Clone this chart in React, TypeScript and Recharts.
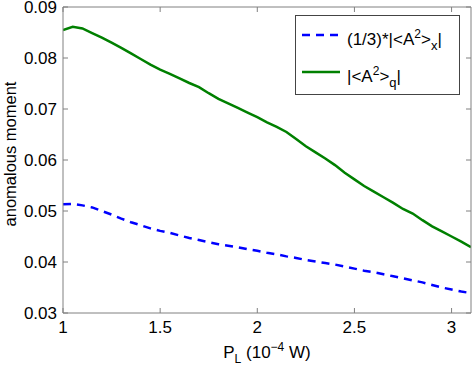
import React from 'react';
import { LineChart, Line, XAxis, YAxis, Legend, Label } from 'recharts';

const powerL = [1.0, 1.05, 1.1, 1.15, 1.2, 1.25, 1.3, 1.35, 1.4, 1.45, 1.5, 1.55, 1.6, 1.65, 1.7, 1.75, 1.8, 1.85, 1.9, 1.95, 2.0, 2.05, 2.1, 2.15, 2.2, 2.25, 2.3, 2.35, 2.4, 2.45, 2.5, 2.55, 2.6, 2.65, 2.7, 2.75, 2.8, 2.85, 2.9, 2.95, 3.0, 3.05, 3.1];
const momentX = [0.0513, 0.0514, 0.0511, 0.0507, 0.05, 0.0493, 0.0485, 0.0478, 0.0472, 0.0466, 0.0461, 0.0457, 0.0452, 0.0447, 0.0443, 0.0439, 0.0435, 0.0432, 0.0429, 0.0425, 0.0422, 0.0418, 0.0415, 0.0411, 0.0408, 0.0404, 0.0401, 0.0398, 0.0395, 0.0391, 0.0387, 0.0383, 0.038, 0.0376, 0.0372, 0.0368, 0.0364, 0.036, 0.0355, 0.035, 0.0346, 0.0342, 0.0339];
const momentQ = [0.0855, 0.0861, 0.0858, 0.0849, 0.084, 0.083, 0.082, 0.0809, 0.0798, 0.0787, 0.0777, 0.0769, 0.076, 0.0751, 0.0743, 0.0731, 0.072, 0.0711, 0.0702, 0.0693, 0.0684, 0.0674, 0.0665, 0.0655, 0.0641, 0.0627, 0.0615, 0.0603, 0.059, 0.0575, 0.0562, 0.0549, 0.0538, 0.0527, 0.0516, 0.0504, 0.0495, 0.0482, 0.047, 0.046, 0.045, 0.044, 0.0429];
const xTicks = [1, 1.5, 2, 2.5, 3];
const yTicks = [0.03, 0.04, 0.05, 0.06, 0.07, 0.08, 0.09];

const data = powerL.map((p, i) => ({ p, x: momentX[i], q: momentQ[i] }));

const AXIS = '#808080';
const FONT = '"Liberation Sans", Arial, Helvetica, sans-serif';
const FS = 17;

const BottomTick = (props: any) => {
  const { x, y, payload } = props;
  return (
    <g>
      <line x1={x} y1={y} x2={x} y2={y - 5} stroke={AXIS} />
      <text x={x} y={y + 20} textAnchor="middle" fontSize={FS} fontFamily={FONT} fill="#000">
        {payload.value}
      </text>
    </g>
  );
};
const TopTick = (props: any) => {
  const { x, y } = props;
  return <line x1={x} y1={y} x2={x} y2={y + 5} stroke={AXIS} />;
};
const LeftTick = (props: any) => {
  const { x, y, payload } = props;
  return (
    <g>
      <line x1={x} y1={y} x2={x + 5} y2={y} stroke={AXIS} />
      <text x={x - 6} y={y + 6} textAnchor="end" fontSize={FS} fontFamily={FONT} fill="#000">
        {payload.value.toFixed(2)}
      </text>
    </g>
  );
};
const RightTick = (props: any) => {
  const { x, y } = props;
  return <line x1={x} y1={y} x2={x - 5} y2={y} stroke={AXIS} />;
};

const LegendBox = () => (
  <div style={{ width: 165, height: 80, border: '1px solid #444', background: '#fff', boxSizing: 'border-box' }}>
    <svg width={163} height={78} style={{ display: 'block' }}>
      <line x1={6} y1={19} x2={44} y2={19} stroke="#0000ff" strokeWidth={2.5} strokeDasharray="8 6" />
      <text x={51} y={29} fontSize={FS} fontFamily={FONT} fill="#000">
        (1/3)*|&lt;A<tspan dy={-7} fontSize={12}>2</tspan><tspan dy={7}>&gt;</tspan>
        <tspan dy={5} fontSize={13}>x</tspan><tspan dy={-5}>|</tspan>
      </text>
      <line x1={6} y1={56} x2={44} y2={56} stroke="#008000" strokeWidth={2.5} />
      <text x={51} y={66} fontSize={FS} fontFamily={FONT} fill="#000">
        |&lt;A<tspan dy={-7} fontSize={12}>2</tspan><tspan dy={7}>&gt;</tspan>
        <tspan dy={5} fontSize={13}>q</tspan><tspan dy={-5}>|</tspan>
      </text>
    </svg>
  </div>
);

export default function App() {
  return (
    <div style={{ position: 'absolute', left: 0, top: 0, width: 474, height: 366, background: '#fff' }}>
      <LineChart width={474} height={366} data={data} margin={{ top: 0, right: 0, bottom: 0, left: 0 }}>
        <XAxis
          dataKey="p"
          type="number"
          domain={[1, 3.1]}
          ticks={xTicks}
          allowDataOverflow
          height={53}
          stroke={AXIS}
          tickLine={false}
          tickSize={0}
          tickMargin={0}
          tick={<BottomTick />}
          interval={0}
        >
          <Label
            content={(props: any) => {
              const vb = props.viewBox;
              return (
                <text x={vb.x + vb.width / 2} y={vb.y + 45} textAnchor="middle" fontSize={FS} fontFamily={FONT} fill="#000">
                  P<tspan dy={5} fontSize={12}>L</tspan>
                  <tspan dy={-5}> (10</tspan>
                  <tspan dy={-7} fontSize={12}>−4</tspan>
                  <tspan dy={7}> W)</tspan>
                </text>
              );
            }}
          />
        </XAxis>
        <XAxis
          xAxisId="top"
          dataKey="p"
          type="number"
          orientation="top"
          domain={[1, 3.1]}
          ticks={xTicks}
          allowDataOverflow
          height={7}
          stroke={AXIS}
          tickLine={false}
          tickSize={0}
          tickMargin={0}
          tick={<TopTick />}
          interval={0}
        />
        <YAxis
          type="number"
          domain={[0.03, 0.09]}
          ticks={yTicks}
          allowDataOverflow
          width={63}
          stroke={AXIS}
          tickLine={false}
          tickSize={0}
          tickMargin={0}
          tick={<LeftTick />}
          interval={0}
        >
          <Label
            content={(props: any) => {
              const vb = props.viewBox;
              const cx = vb.x + 16;
              const cy = vb.y + vb.height / 2 - 6;
              return (
                <text x={cx} y={cy} transform={`rotate(-90, ${cx}, ${cy})`} textAnchor="middle" fontSize={16.5} fontFamily={FONT} fill="#000">
                  anomalous moment
                </text>
              );
            }}
          />
        </YAxis>
        <YAxis
          yAxisId="right"
          orientation="right"
          type="number"
          domain={[0.03, 0.09]}
          ticks={yTicks}
          allowDataOverflow
          width={3}
          stroke={AXIS}
          tickLine={false}
          tickSize={0}
          tickMargin={0}
          tick={<RightTick />}
          interval={0}
        />
        <Legend
          layout="horizontal"
          verticalAlign="middle"
          align="center"
          content={<LegendBox />}
          wrapperStyle={{ position: 'absolute', left: 295, top: 15, width: 165, height: 80 }}
        />
        <Line
          type="linear"
          dataKey="x"
          stroke="#0000ff"
          strokeWidth={2.5}
          strokeDasharray="8 6"
          dot={false}
          isAnimationActive={false}
        />
        <Line
          type="linear"
          dataKey="q"
          stroke="#008000"
          strokeWidth={2.5}
          dot={false}
          isAnimationActive={false}
        />
      </LineChart>
    </div>
  );
}
